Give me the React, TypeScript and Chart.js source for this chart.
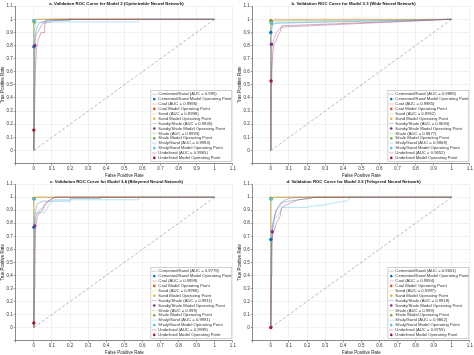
import React, { useEffect, useRef } from 'react';
import { Chart, registerables } from 'chart.js';
Chart.register(...registerables);

type Pt = [number, number];

const classNames = ['Cemented/Sand', 'Coal', 'Sand', 'Sandy/Shale', 'Shale', 'Shaly/Sand', 'Undefined'];
const classColors = ['#0072BD', '#D95319', '#EDB120', '#7E2F8E', '#77AC30', '#4DBEEE', '#A2142F'];
const curveColors = ['rgba(0,114,189,0.45)', 'rgba(217,83,25,0.45)', 'rgba(237,177,32,0.45)', 'rgba(126,47,142,0.45)', 'rgba(119,172,48,0.45)', 'rgba(77,190,238,0.55)', 'rgba(162,20,47,0.45)'];

const panelTitles = [
  'a. Validation ROC Curve for Model 2 (Optimizable Neural Network)',
  'b. Validation ROC Curve for Model 3.3 (Wide Neural Network)',
  'c. Validation ROC Curve for Model 3.4 (Bilayered Neural Network)',
  'd. Validation ROC Curve for Model 3.5 (Trilayered Neural Network)',
];

const aucA = ['0.995', '0.9996', '0.9998', '0.9945', '0.9993', '0.9994', '0.9965'];
const aucB = ['0.9889', '0.9985', '0.9952', '0.9694', '0.9977', '0.9968', '0.9652'];
const aucC = ['0.9779', '0.9999', '0.9998', '0.9911', '0.999', '0.9991', '0.9939'];
const aucD = ['0.9661', '0.9994', '0.9997', '0.9918', '0.999', '0.9862', '0.9755'];

const opA: Pt[] = [[0, 0.79], [0, 0.99], [0, 0.99], [0.005, 0.8], [0.002, 0.98], [0, 0.99], [0, 0.155]];
const opB: Pt[] = [[0, 0.9], [0, 0.99], [0, 0.98], [0.003, 0.81], [0.002, 0.985], [0.003, 0.97], [0.001, 0.53]];
const opC: Pt[] = [[0, 0.77], [0, 0.99], [0, 0.99], [0.005, 0.78], [0.002, 0.99], [0.001, 0.985], [0, 0.035]];
const opD: Pt[] = [[0, 0.675], [0, 0.99], [0, 0.99], [0.008, 0.735], [0.002, 0.99], [0.002, 0.985], [0, 0.0]];

// Panel a curves
const rocA_CementedSand: Pt[] = [[0, 0], [0, 0.55], [0.003, 0.75], [0.006, 0.85], [0.01, 0.9], [0.02, 0.95], [0.03, 0.97], [0.05, 0.98], [0.08, 0.99], [0.2, 0.99], [0.2, 1], [1, 1]];
const rocA_Coal: Pt[] = [[0, 0], [0, 0.97], [0.005, 0.99], [0.01, 1], [1, 1]];
const rocA_Sand: Pt[] = [[0, 0], [0, 0.98], [0.005, 1], [1, 1]];
const rocA_SandyShale: Pt[] = [[0, 0], [0.002, 0.5], [0.005, 0.8], [0.01, 0.87], [0.02, 0.9], [0.03, 0.92], [0.04, 0.95], [0.05, 0.97], [0.1, 0.98], [0.11, 0.99], [0.2, 1], [1, 1]];
const rocA_Shale: Pt[] = [[0, 0], [0, 0.97], [0.01, 0.99], [0.02, 1], [1, 1]];
const rocA_ShalySand: Pt[] = [[0, 0], [0, 0.9], [0.01, 0.97], [0.03, 0.98], [0.58, 0.98], [0.58, 1], [1, 1]];
const rocA_Undefined: Pt[] = [[0, 0], [0.004, 0.3], [0.008, 0.6], [0.015, 0.78], [0.025, 0.85], [0.035, 0.88], [0.04, 0.9], [0.06, 0.9], [0.06, 0.95], [0.065, 0.99], [0.1, 1], [1, 1]];

// Panel b curves
const rocB_CementedSand: Pt[] = [[0, 0], [0, 0.85], [0.005, 0.92], [0.01, 0.96], [0.03, 0.97], [1, 1]];
const rocB_Coal: Pt[] = [[0, 0], [0, 0.98], [0.01, 0.99], [0.02, 1], [1, 1]];
const rocB_Sand: Pt[] = [[0, 0], [0, 0.97], [0.02, 0.985], [1, 1]];
const rocB_SandyShale: Pt[] = [[0, 0], [0.002, 0.6], [0.005, 0.78], [0.01, 0.82], [0.02, 0.86], [0.03, 0.9], [0.05, 0.93], [0.06, 0.94], [1, 1]];
const rocB_Shale: Pt[] = [[0, 0], [0, 0.98], [0.01, 0.99], [1, 1]];
const rocB_ShalySand: Pt[] = [[0, 0], [0, 0.93], [0.01, 0.96], [0.02, 0.97], [0.05, 0.975], [1, 1]];
const rocB_Undefined: Pt[] = [[0, 0], [0.002, 0.5], [0.005, 0.62], [0.01, 0.72], [0.015, 0.8], [0.02, 0.82], [0.03, 0.84], [0.04, 0.88], [0.05, 0.9], [0.06, 0.95], [1, 1]];

// Panel c curves
const rocC_CementedSand: Pt[] = [[0, 0], [0, 0.6], [0.005, 0.85], [0.01, 0.9], [0.02, 0.95], [0.05, 0.97], [0.2, 0.97], [0.2, 0.99], [0.37, 0.99], [0.37, 1], [1, 1]];
const rocC_Coal: Pt[] = [[0, 0], [0, 0.99], [0.005, 1], [1, 1]];
const rocC_Sand: Pt[] = [[0, 0], [0, 0.98], [0.01, 1], [1, 1]];
const rocC_SandyShale: Pt[] = [[0, 0], [0.003, 0.5], [0.006, 0.78], [0.01, 0.85], [0.02, 0.88], [0.03, 0.9], [0.05, 0.92], [0.07, 0.95], [0.1, 0.99], [0.12, 1], [1, 1]];
const rocC_Shale: Pt[] = [[0, 0], [0, 0.98], [0.01, 1], [1, 1]];
const rocC_ShalySand: Pt[] = [[0, 0], [0, 0.85], [0.01, 0.88], [0.06, 0.88], [0.08, 0.93], [0.1, 0.97], [0.1, 0.98], [0.58, 0.98], [0.58, 1], [1, 1]];
const rocC_Undefined: Pt[] = [[0, 0], [0.003, 0.3], [0.006, 0.6], [0.01, 0.78], [0.02, 0.85], [0.03, 0.88], [0.05, 0.9], [0.06, 0.95], [0.1, 0.99], [0.12, 1], [1, 1]];

// Panel d curves
const rocD_CementedSand: Pt[] = [[0, 0], [0, 0.5], [0.005, 0.7], [0.01, 0.8], [0.02, 0.85], [0.03, 0.9], [0.05, 0.93], [0.06, 0.96], [0.1, 0.97], [0.15, 0.98], [0.22, 0.99], [0.24, 1], [1, 1]];
const rocD_Coal: Pt[] = [[0, 0], [0, 0.98], [0.01, 1], [1, 1]];
const rocD_Sand: Pt[] = [[0, 0], [0, 0.99], [0.005, 1], [1, 1]];
const rocD_SandyShale: Pt[] = [[0, 0], [0.003, 0.5], [0.008, 0.73], [0.015, 0.78], [0.02, 0.85], [0.03, 0.9], [0.05, 0.95], [0.08, 0.98], [0.1, 0.99], [0.15, 1], [1, 1]];
const rocD_Shale: Pt[] = [[0, 0], [0, 0.98], [0.01, 0.99], [0.02, 1], [1, 1]];
const rocD_ShalySand: Pt[] = [[0, 0], [0, 0.7], [0.01, 0.8], [0.03, 0.85], [0.05, 0.88], [0.06, 0.92], [0.2, 0.92], [0.22, 0.93], [0.3, 0.94], [0.36, 0.96], [0.42, 0.97], [0.43, 0.98], [0.44, 1], [1, 1]];
const rocD_Undefined: Pt[] = [[0, 0], [0.003, 0.4], [0.006, 0.65], [0.01, 0.72], [0.02, 0.75], [0.03, 0.8], [0.05, 0.85], [0.06, 0.92], [0.1, 0.95], [0.15, 0.98], [0.2, 0.99], [0.24, 1], [1, 1]];

const diagonal: Pt[] = [[0, 0], [1, 1]];

const panels = [
  { title: panelTitles[0], aucs: aucA, ops: opA, curves: [rocA_CementedSand, rocA_Coal, rocA_Sand, rocA_SandyShale, rocA_Shale, rocA_ShalySand, rocA_Undefined], left: 0, top: 0, h: 178 },
  { title: panelTitles[1], aucs: aucB, ops: opB, curves: [rocB_CementedSand, rocB_Coal, rocB_Sand, rocB_SandyShale, rocB_Shale, rocB_ShalySand, rocB_Undefined], left: 237, top: 0, h: 178 },
  { title: panelTitles[2], aucs: aucC, ops: opC, curves: [rocC_CementedSand, rocC_Coal, rocC_Sand, rocC_SandyShale, rocC_Shale, rocC_ShalySand, rocC_Undefined], left: 0, top: 178, h: 177 },
  { title: panelTitles[3], aucs: aucD, ops: opD, curves: [rocD_CementedSand, rocD_Coal, rocD_Sand, rocD_SandyShale, rocD_Shale, rocD_ShalySand, rocD_Undefined], left: 237, top: 178, h: 177 },
];

const FONT = '"Liberation Sans", Arial, Helvetica, sans-serif';

const boxLegend = {
  id: 'boxLegend',
  afterDraw(chart: any) {
    const { ctx, chartArea } = chart;
    const entries = chart.options.plugins.boxLegend.entries as { text: string; color: string; kind: string }[];
    const rowH = 4.9, w = 81, padY = 1.2;
    const h = entries.length * rowH + 2 * padY;
    const right = chartArea.right - 1, bottom = chartArea.bottom - 2;
    const left = right - w, top = bottom - h;
    ctx.save();
    ctx.fillStyle = '#ffffff';
    ctx.fillRect(left, top, w, h);
    ctx.strokeStyle = '#a0a0a0';
    ctx.lineWidth = 0.5;
    ctx.strokeRect(left, top, w, h);
    ctx.font = '4.2px ' + FONT;
    ctx.textBaseline = 'middle';
    ctx.textAlign = 'left';
    entries.forEach((e, i) => {
      const y = top + padY + rowH * (i + 0.5);
      if (e.kind === 'line') {
        ctx.strokeStyle = e.color;
        ctx.lineWidth = 0.7;
        ctx.beginPath();
        ctx.moveTo(left + 1, y);
        ctx.lineTo(left + 6, y);
        ctx.stroke();
      } else {
        ctx.fillStyle = e.color;
        ctx.beginPath();
        ctx.arc(left + 3.4, y, 1.3, 0, Math.PI * 2);
        ctx.fill();
      }
      ctx.fillStyle = '#333333';
      ctx.fillText(e.text, left + 7.5, y);
    });
    ctx.restore();
  },
};

function tickFmt(v: any) {
  const n = Number(v);
  if (n < -0.05) return '';
  return String(Math.round(n * 10) / 10);
}

function Panel(p: typeof panels[number]) {
  const ref = useRef<HTMLCanvasElement | null>(null);
  useEffect(() => {
    if (!ref.current) return;
    const datasets: any[] = [];
    p.ops.forEach((o, i) => {
      datasets.push({
        data: [{ x: o[0], y: o[1] }],
        backgroundColor: classColors[i],
        borderColor: classColors[i],
        pointRadius: 1.7,
        borderWidth: 0,
        showLine: false,
        order: -i,
      });
    });
    p.curves.forEach((c, i) => {
      datasets.push({
        data: c.map((q) => ({ x: q[0], y: q[1] })),
        borderColor: curveColors[i],
        backgroundColor: curveColors[i],
        borderWidth: 0.8,
        pointRadius: 0,
        showLine: true,
        order: 10 - i,
      });
    });
    datasets.push({
      data: diagonal.map((q) => ({ x: q[0], y: q[1] })),
      borderColor: '#8c8c8c',
      borderWidth: 0.6,
      borderDash: [3, 2],
      pointRadius: 0,
      showLine: true,
      order: 20,
    });
    const entries: any[] = [];
    classNames.forEach((n, i) => {
      entries.push({ text: `${n} (AUC = ${p.aucs[i]})`, color: curveColors[i], kind: 'line' });
      entries.push({ text: `${n} Model Operating Point`, color: classColors[i], kind: 'point' });
    });
    const axisCommon = (label: string) => ({
      type: 'linear',
      min: -0.1,
      max: 1.1,
      ticks: {
        stepSize: 0.1,
        autoSkip: false,
        maxRotation: 0,
        padding: 1,
        color: '#333',
        font: { size: 4.5, family: FONT, lineHeight: 1.1 },
        callback: tickFmt,
      },
      grid: { color: '#e4e4e4', lineWidth: 0.5, tickLength: 2, tickColor: '#444', tickWidth: 0.5 },
      border: { color: '#444', width: 0.6 },
      title: { display: true, text: label, color: '#222', font: { size: 4.5, family: FONT, lineHeight: 1 }, padding: { top: 1, bottom: 0 } },
    });
    const chart = new Chart(ref.current, {
      type: 'scatter',
      data: { datasets },
      options: {
        responsive: false,
        animation: false,
        devicePixelRatio: 1,
        layout: { padding: { left: 0, right: 4, top: 0, bottom: 0 } },
        scales: {
          x: axisCommon('False Positive Rate') as any,
          y: axisCommon('True Positive Rate') as any,
        },
        plugins: {
          legend: { display: false },
          tooltip: { enabled: false },
          title: { display: true, text: p.title, color: '#111', font: { size: 4.3, weight: 'bold', family: FONT }, padding: { top: 1, bottom: 0 } },
          boxLegend: { entries },
        } as any,
      },
      plugins: [boxLegend as any],
    });
    return () => chart.destroy();
  }, []);
  return <canvas ref={ref} width={237} height={p.h} style={{ position: 'absolute', left: p.left, top: p.top }} />;
}

export default function App() {
  return (
    <div style={{ position: 'absolute', left: 0, top: 0, width: 474, height: 355, background: '#fff' }}>
      {panels.map((p, i) => (
        <Panel key={i} {...p} />
      ))}
    </div>
  );
}
